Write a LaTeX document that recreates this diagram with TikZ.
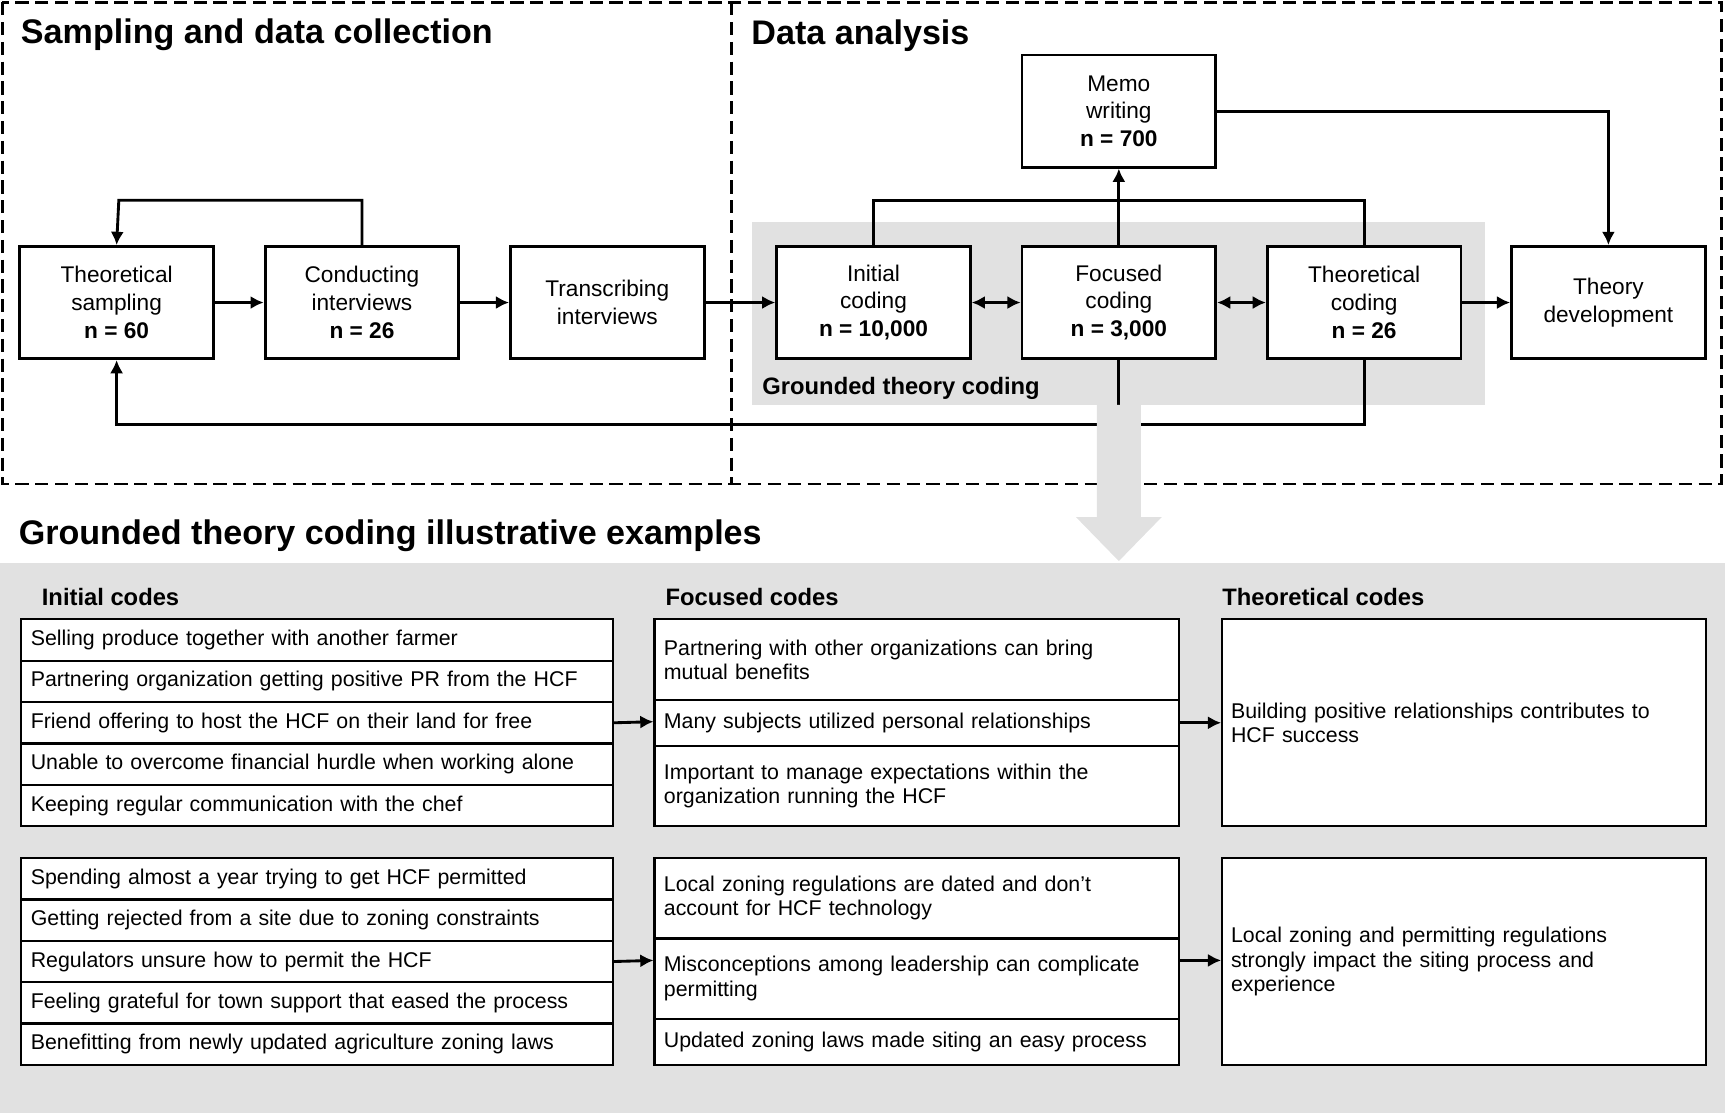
\documentclass[tikz,border=0pt]{standalone}
\usepackage{fontspec}
\setmainfont{Liberation Sans}
\usetikzlibrary{arrows.meta}
\definecolor{greyfill}{HTML}{E1E1E1}
\begin{document}
\begin{tikzpicture}[x=0.5pt,y=-0.5pt,
    every node/.style={font=\fontsize{9.7}{11}\selectfont},
    flow/.style={draw, line width=1.3pt, fill=white, minimum width=88pt, minimum height=51pt, align=center, inner sep=1pt, font=\fontsize{10.3}{12.6}\selectfont},
    code/.style={draw, line width=1pt, fill=white, anchor=north west, align=left, inner xsep=3pt, inner ysep=0pt},
    head/.style={anchor=west, font=\fontsize{15.5}{18}\selectfont\bfseries},
    sub/.style={anchor=west, font=\fontsize{10.8}{12}\selectfont\bfseries},
    link/.style={line width=1.3pt, -{Latex[length=6pt,width=6pt]}},
    both/.style={line width=1.3pt, {Latex[length=6pt,width=6pt]}-{Latex[length=6pt,width=6pt]}}]
  \useasboundingbox (0,0) rectangle (1568,1012);

  % top half
  \draw [line width=1.3pt, dash pattern=on 6pt off 3pt] (2,2) rectangle (1565,440);
  \draw [line width=1.3pt, dash pattern=on 6pt off 3pt] (665,2) -- (665,440);
  \node [head] at (12,32) {Sampling and data collection};
  \node [head] at (676,32) {Data analysis};

  \fill [greyfill] (684,202) rectangle (1350,368);
  \node [sub] at (686,353) {Grounded theory coding};

  \node [flow] (samp) at (106,275) {Theoretical\\sampling\\\textbf{n = 60}};
  \node [flow] (intv) at (329,275) {Conducting\\interviews\\\textbf{n = 26}};
  \node [flow] (trans) at (552,275) {Transcribing\\interviews};
  \node [flow] (init) at (794,275) {Initial\\coding\\\textbf{n = 10,000}};
  \node [flow] (focus) at (1017,275) {Focused\\coding\\\textbf{n = 3,000}};
  \node [flow] (theo) at (1240,275) {Theoretical\\coding\\\textbf{n = 26}};
  \node [flow] (dev) at (1462,275) {Theory\\development};
  \node [flow] (memo) at (1017,101) {Memo\\writing\\\textbf{n = 700}};

  \draw [link] (samp) -- (intv);
  \draw [link] (intv) -- (trans);
  \draw [link] (trans) -- (init);
  \draw [both] (init) -- (focus);
  \draw [both] (focus) -- (theo);
  \draw [link] (theo) -- (dev);
  \draw [link] (focus) -- (memo);
  \draw [link] (intv.north) |- (108,182) -- (samp.north);
  \draw [line width=1.3pt] (init.north) |- (1240,182) -- (theo.north);
  \draw [link] (memo.east) -| (dev.north);
  \draw [line width=1.3pt] (theo.south) |- (1017,386) -- (focus.south);
  \draw [link] (1017,386) -| (samp.south);

  % big arrow
  \fill [greyfill] (997,368) -- (1037,368) -- (1037,470) -- (1056,470) -- (1017,510)
    -- (978,470) -- (997,470) -- cycle;

  % examples
  \node [head] at (10,487) {Grounded theory coding illustrative examples};
  \fill [greyfill] (0,512) rectangle (1568,1012);
  \node [sub] at (31,543) {Initial codes};
  \node [sub] at (598,543) {Focused codes};
  \node [sub] at (1104,543) {Theoretical codes};

  \foreach \t [count=\i from 0] in {Selling produce together with another farmer,
      Partnering organization getting positive PR from the HCF,
      Friend offering to host the HCF on their land for free,
      Unable to overcome financial hurdle when working alone,
      Keeping regular communication with the chef}
    \node [code, minimum width=269pt, minimum height=18.8pt, text width=260pt] (ia\i) at (18,562+37.6*\i) {\t};
  \foreach \t [count=\i from 0] in {Spending almost a year trying to get HCF permitted,
      Getting rejected from a site due to zoning constraints,
      Regulators unsure how to permit the HCF,
      Feeling grateful for town support that eased the process,
      Benefitting from newly updated agriculture zoning laws}
    \node [code, minimum width=269pt, minimum height=18.8pt, text width=260pt] (ib\i) at (18,779+37.6*\i) {\t};

  \node [code, minimum width=238.5pt, minimum height=36.5pt, text width=230pt] (fa0) at (594,562) {Partnering with other organizations can bring\\mutual benefits};
  \node [code, minimum width=238.5pt, minimum height=21pt, text width=230pt] (fa1) at (594,635) {Many subjects utilized personal relationships};
  \node [code, minimum width=238.5pt, minimum height=36.5pt, text width=230pt] (fa2) at (594,677) {Important to manage expectations within the\\organization running the HCF};
  \node [code, minimum width=238.5pt, minimum height=36.5pt, text width=230pt] (fb0) at (594,779) {Local zoning regulations are dated and don’t\\account for HCF technology};
  \node [code, minimum width=238.5pt, minimum height=36.5pt, text width=230pt] (fb1) at (594,852) {Misconceptions among leadership can complicate\\permitting};
  \node [code, minimum width=238.5pt, minimum height=21pt, text width=230pt] (fb2) at (594,925) {Updated zoning laws made siting an easy process};

  \node [code, minimum width=220pt, minimum height=94pt, text width=212pt] (ta) at (1110,562) {Building positive relationships contributes to\\HCF success};
  \node [code, minimum width=220pt, minimum height=94pt, text width=212pt] (tb) at (1110,779) {Local zoning and permitting regulations\\strongly impact the siting process and\\experience};

  \draw [link] (ia2.east) -- (594,656);
  \draw [link] (fa1.east) -- (ta.west |- fa1.east);
  \draw [link] (ib2.east) -- (594,873);
  \draw [link] (1071,873) -- (tb.west |- 0,873);
\end{tikzpicture}
\end{document}
